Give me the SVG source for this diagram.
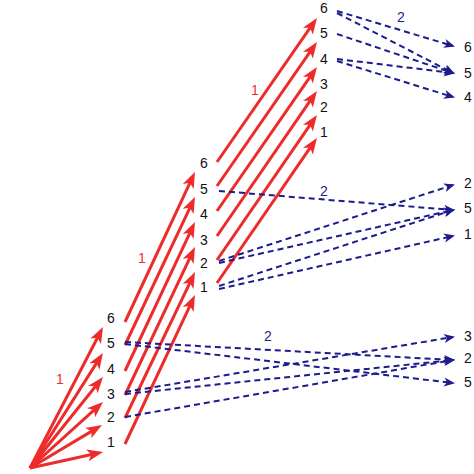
<svg xmlns="http://www.w3.org/2000/svg" width="474" height="474" viewBox="0 0 474 474">
<style>
text{font-family:"Liberation Sans",Arial,sans-serif;font-size:14px;fill:#111;text-anchor:middle;dominant-baseline:central}
.r{stroke:#ee2b2b;stroke-width:3;fill:none;marker-end:url(#ra)}
.b{stroke:#1c1c8c;stroke-width:2;stroke-dasharray:6 4;fill:none;marker-end:url(#ba)}
text.rl{fill:#e83030}
text.bl{fill:#1c1c8c}
</style>
<defs>
<marker id="ra" markerUnits="userSpaceOnUse" markerWidth="18" markerHeight="14" refX="9" refY="6" orient="auto" overflow="visible"><path d="M0,0 L16,6 L0,12 L4,6 z" fill="#ee2b2b"/></marker>
<marker id="ba" markerUnits="userSpaceOnUse" markerWidth="12" markerHeight="10" refX="9" refY="4.5" orient="auto" overflow="visible"><path d="M0,0 L11,4.5 L0,9 L3,4.5 z" fill="#1c1c8c"/></marker>
</defs>
<rect width="474" height="474" fill="#fff"/>
<g id="connectors">
<line class="r" x1="30" y1="468" x2="99.8" y2="333.2"/>
<line class="r" x1="30" y1="468" x2="99.2" y2="358.9"/>
<line class="r" x1="30" y1="468" x2="98.6" y2="382.5"/>
<line class="r" x1="30" y1="468" x2="97.8" y2="406.7"/>
<line class="r" x1="30" y1="468" x2="96" y2="428.6"/>
<line class="r" x1="30" y1="468" x2="96.2" y2="453.5"/>
<line class="r" x1="125" y1="322" x2="192" y2="178.3"/>
<line class="r" x1="125" y1="345" x2="192" y2="203.3"/>
<line class="r" x1="125" y1="371" x2="192" y2="228.3"/>
<line class="r" x1="125" y1="395" x2="192" y2="253.3"/>
<line class="r" x1="125" y1="418" x2="192" y2="278.3"/>
<line class="r" x1="125" y1="444" x2="192" y2="301.3"/>
<line class="r" x1="217" y1="162" x2="313" y2="23.7"/>
<line class="r" x1="217" y1="186" x2="313" y2="47.7"/>
<line class="r" x1="217" y1="211" x2="313" y2="72.7"/>
<line class="r" x1="217" y1="236" x2="313" y2="96.7"/>
<line class="r" x1="217" y1="260" x2="313" y2="120.7"/>
<line class="r" x1="217" y1="283" x2="313" y2="143.7"/>
<line class="b" x1="337" y1="11" x2="453" y2="46"/>
<line class="b" x1="337" y1="13" x2="453" y2="73"/>
<line class="b" x1="337" y1="34" x2="453" y2="73"/>
<line class="b" x1="337" y1="59" x2="453" y2="73"/>
<line class="b" x1="337" y1="61" x2="453" y2="97"/>
<line class="b" x1="219" y1="191" x2="453" y2="210"/>
<line class="b" x1="219" y1="261" x2="453" y2="185"/>
<line class="b" x1="219" y1="263" x2="453" y2="210"/>
<line class="b" x1="219" y1="286" x2="453" y2="210"/>
<line class="b" x1="219" y1="289" x2="453" y2="236"/>
<line class="b" x1="125" y1="342" x2="453" y2="360"/>
<line class="b" x1="125" y1="344" x2="453" y2="383"/>
<line class="b" x1="125" y1="392" x2="453" y2="337"/>
<line class="b" x1="125" y1="394" x2="453" y2="360"/>
<line class="b" x1="125" y1="417" x2="453" y2="360"/>
<text class="rl" x="60" y="379">1</text>
<text class="rl" x="142" y="258">1</text>
<text class="rl" x="255" y="90">1</text>
<text class="bl" x="268" y="336">2</text>
<text class="bl" x="324" y="191">2</text>
<text class="bl" x="401" y="17">2</text>
</g>
<g id="l1-6"><text x="111" y="318">6</text></g>
<g id="l1-5"><text x="111" y="343">5</text></g>
<g id="l1-4"><text x="111" y="369">4</text></g>
<g id="l1-3"><text x="111" y="394">3</text></g>
<g id="l1-2"><text x="111" y="417">2</text></g>
<g id="l1-1"><text x="111" y="442">1</text></g>
<g id="l2-6"><text x="204" y="163">6</text></g>
<g id="l2-5"><text x="204" y="189">5</text></g>
<g id="l2-4"><text x="204" y="214">4</text></g>
<g id="l2-3"><text x="204" y="240">3</text></g>
<g id="l2-2"><text x="204" y="263">2</text></g>
<g id="l2-1"><text x="204" y="287">1</text></g>
<g id="l3-6"><text x="324" y="8">6</text></g>
<g id="l3-5"><text x="324" y="33">5</text></g>
<g id="l3-4"><text x="324" y="59">4</text></g>
<g id="l3-3"><text x="324" y="84">3</text></g>
<g id="l3-2"><text x="324" y="107">2</text></g>
<g id="l3-1"><text x="324" y="132">1</text></g>
<g id="t-6"><text x="468" y="47">6</text></g>
<g id="t-5"><text x="468" y="73">5</text></g>
<g id="t-4"><text x="468" y="97">4</text></g>
<g id="m-2"><text x="468" y="183">2</text></g>
<g id="m-5"><text x="468" y="208">5</text></g>
<g id="m-1"><text x="468" y="234">1</text></g>
<g id="b-3"><text x="468" y="336">3</text></g>
<g id="b-2"><text x="468" y="358">2</text></g>
<g id="b-5"><text x="468" y="382">5</text></g>
</svg>
